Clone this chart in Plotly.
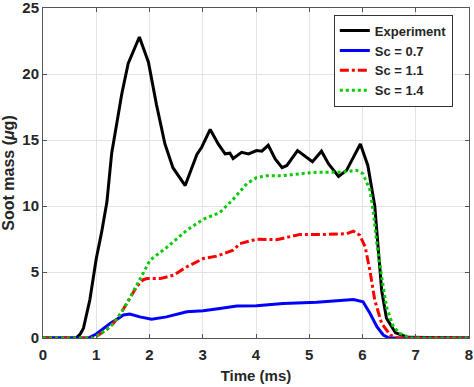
import plotly.graph_objects as go

# Experiment
exp_t = [0, 0.62, 0.7, 0.76, 0.88, 1.0, 1.1, 1.2, 1.29, 1.48, 1.6, 1.81, 1.98, 2.13, 2.29, 2.44,
         2.67, 2.89, 2.98, 3.14, 3.29, 3.42, 3.51, 3.57, 3.73, 3.86, 4.01, 4.11, 4.23, 4.36,
         4.49, 4.58, 4.78, 5.06, 5.23, 5.36, 5.55, 5.70, 5.96, 6.10, 6.23, 6.30, 6.36, 6.45,
         6.62, 6.85, 8.0]
exp_v = [0, 0, 0.3, 0.75, 2.9, 6.0, 8.0, 10.3, 14.0, 18.5, 20.8, 22.8, 20.9, 17.7, 14.7, 12.9,
         11.55, 13.9, 14.45, 15.8, 14.7, 13.95, 14.0, 13.6, 14.07, 13.95, 14.2, 14.15, 14.6, 13.57,
         12.9, 13.07, 14.2, 13.35, 14.15, 13.2, 12.24, 12.7, 14.7, 13.07, 10.0, 6.4, 3.6, 1.5,
         0.4, 0.05, 0]

# Sc = 0.7
sc07_t = [0, 0.85, 1.0, 1.13, 1.26, 1.40, 1.51, 1.63, 1.82, 2.04, 2.32, 2.70, 3.01, 3.32, 3.64,
          4.01, 4.51, 5.14, 5.58, 5.83, 6.01, 6.14, 6.27, 6.39, 6.5, 8.0]
sc07_v = [0, 0, 0.3, 0.7, 1.1, 1.45, 1.74, 1.81, 1.6, 1.43, 1.6, 1.99, 2.06, 2.24, 2.42,
          2.44, 2.62, 2.7, 2.82, 2.92, 2.74, 1.87, 0.85, 0.23, 0, 0]

# Sc = 1.1
sc11_t = [0, 0.95, 1.07, 1.2, 1.32, 1.45, 1.57, 1.76, 1.88, 1.95, 2.2, 2.45, 2.7, 3.01, 3.26,
          3.57, 3.70, 4.01, 4.39, 4.83, 5.33, 5.70, 5.83, 5.95, 6.05, 6.14, 6.23, 6.36, 6.52,
          6.65, 8.0]
sc11_v = [0, 0, 0.3, 0.65, 1.1, 1.8, 2.6, 3.9, 4.4, 4.5, 4.5, 4.76, 5.39, 6.02, 6.2,
          6.65, 7.15, 7.48, 7.45, 7.85, 7.85, 7.9, 8.1, 7.78, 6.9, 5.1, 2.87, 1.1, 0.23,
          0, 0]

# Sc = 1.4
sc14_t = [0, 0.95, 1.07, 1.2, 1.32, 1.45, 1.57, 1.76, 1.88, 2.01, 2.32, 2.70, 3.01, 3.32, 3.57,
          3.83, 4.01, 4.20, 4.51, 4.83, 5.14, 5.58, 5.89, 6.01, 6.14, 6.20, 6.27, 6.36, 6.45,
          6.58, 6.70, 6.9, 8.0]
sc14_v = [0, 0, 0.3, 0.65, 1.1, 1.8, 2.6, 3.95, 4.9, 5.9, 6.85, 8.16, 9.0, 9.5, 10.5,
          11.7, 12.15, 12.3, 12.3, 12.44, 12.56, 12.56, 12.7, 12.44, 11.2, 9.67, 7.15, 4.63, 2.36,
          0.85, 0.35, 0, 0]

x_ticks = [0, 1, 2, 3, 4, 5, 6, 7, 8]
y_ticks = [0, 5, 10, 15, 20, 25]

fig = go.Figure()
fig.add_trace(go.Scatter(x=exp_t, y=exp_v, mode="lines", name="<b>Experiment</b>",
                         line=dict(color="black", width=3)))
fig.add_trace(go.Scatter(x=sc07_t, y=sc07_v, mode="lines", name="<b>Sc = 0.7</b>",
                         line=dict(color="#0000ff", width=3)))
fig.add_trace(go.Scatter(x=sc11_t, y=sc11_v, mode="lines", name="<b>Sc = 1.1</b>",
                         line=dict(color="#ff0000", width=3, dash="dashdot")))
fig.add_trace(go.Scatter(x=sc14_t, y=sc14_v, mode="lines", name="<b>Sc = 1.4</b>",
                         line=dict(color="#00cc00", width=3, dash="dot")))

axis_common = dict(
    showline=True, linecolor="#555555", linewidth=1, mirror="ticks",
    ticks="inside", ticklen=4, tickcolor="#555555",
    showgrid=True, gridcolor="#e3e3e3", gridwidth=1, zeroline=False,
    tickfont=dict(family="Liberation Sans, Arial", size=15, color="#262626"),
    automargin=False, ticklabeloverflow="allow",
)

fig.update_layout(
    width=474, height=387,
    margin=dict(l=43, r=5, t=8, b=49),
    paper_bgcolor="white", plot_bgcolor="white",
    font=dict(family="Liberation Sans, Arial", color="#262626"),
    showlegend=True,
    legend=dict(x=0.962, y=0.98, xanchor="right", yanchor="top",
                bgcolor="white", bordercolor="#333333", borderwidth=1,
                font=dict(family="Liberation Sans, Arial", size=13, color="#262626"),
                tracegroupgap=0, itemwidth=30),
    xaxis=dict(range=[0, 8], tickvals=x_ticks,
               ticktext=[f"<b>{v}</b>" for v in x_ticks],
               ticklabelstandoff=3,
               title=dict(text="<b>Time (ms)</b>", font=dict(size=15), standoff=8),
               **axis_common),
    yaxis=dict(range=[0, 25], tickvals=y_ticks,
               ticktext=[f"<b>{v}</b>" for v in y_ticks],
               title=dict(text="<b>Soot mass (<i>μ</i>g)</b>", font=dict(size=16), standoff=6),
               **axis_common),
)

fig.write_html("out.html", config={"displayModeBar": False},
               post_script="document.body.style.margin='0';document.body.style.overflow='hidden';")
